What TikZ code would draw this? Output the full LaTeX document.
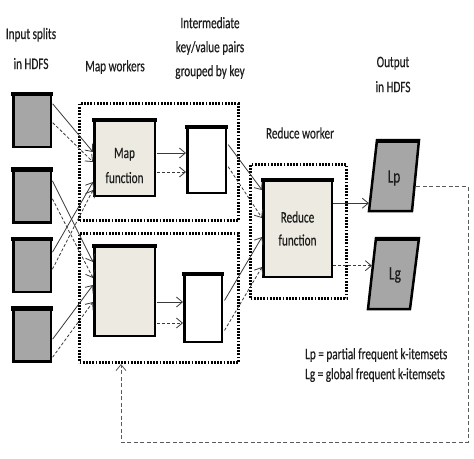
\documentclass[tikz,border=0pt]{standalone}
\usepackage{fontspec}
\setmainfont{Carlito}[FakeStretch=0.7,FakeBold=0.4]
\usetikzlibrary{arrows.meta,calc}
\definecolor{boxgray}{HTML}{A6A6A6}
\definecolor{mapfill}{HTML}{ECEAE1}
\definecolor{linegray}{HTML}{3A3A3A}
\definecolor{fbgray}{HTML}{5A5A5A}
\definecolor{txt}{HTML}{1E1E1E}
\newcommand{\topedge}[1]{\draw[line width=4.5pt] ([xshift=-1.25pt,yshift=-1pt]#1.north west) -- ([xshift=1.25pt,yshift=-1pt]#1.north east);}
\tikzset{
  inbox/.style={draw=black, line width=2.5pt, fill=boxgray, minimum width=37.5pt, minimum height=52.5pt, inner sep=0pt},
  mapbox/.style={draw=black, line width=2.5pt, fill=mapfill, inner sep=0pt, text=txt, align=center, font=\fontsize{16}{23}\selectfont},
  intbox/.style={draw=black, line width=2.5pt, fill=white, inner sep=0pt},
  worker/.style={draw=black, line width=3pt, dash pattern=on 1.8pt off 1.4pt, inner sep=0pt},
  arr/.style={draw=linegray, line width=0.8pt, -{Straight Barb[length=6pt,width=10pt,line width=0.8pt]}, shorten <=1pt},
  darr/.style={arr, dash pattern=on 3pt off 2pt},
  fb/.style={draw=fbgray, line width=0.8pt, dash pattern=on 4pt off 2.5pt, -{Straight Barb[length=6pt,width=10pt,line width=0.8pt]}},
  lbl/.style={text=txt, align=center, inner sep=0pt, font=\fontsize{16}{24}\selectfont},
  outshape/.style={draw=black, line width=2.5pt, fill=boxgray, line join=miter}
}
\begin{document}
\begin{tikzpicture}[x=1pt,y=-1pt]
\useasboundingbox (0,0) rectangle (474,458);
\fill[white] (0,0) rectangle (474,458);

% labels
\node[lbl, font=\fontsize{16}{30}\selectfont] (inlbl) at (31,48.5) {Input splits\\in HDFS};
\node[lbl] (mwlbl) at (115,67) {Map workers};
\node[lbl, font=\fontsize{16}{24}\selectfont] (intlbl) at (210,48) {Intermediate\\key/value pairs\\grouped by key};
\node[lbl, font=\fontsize{16}{25}\selectfont] (outlbl) at (393,74.5) {Output\\in HDFS};
\node[lbl] (rwlbl) at (300,133) {Reduce worker};

% worker frames
\node[worker, minimum width=159pt, minimum height=117pt] (mw1) at (159,162) {};
\node[worker, minimum width=159pt, minimum height=129pt] (mw2) at (159,298) {};
\node[worker, minimum width=96pt, minimum height=134pt] (rw) at (298.5,231.5) {};

% input splits
\node[inbox] (in1) at (32,120.5) {};
\node[inbox] (in2) at (32,196) {};
\node[inbox] (in3) at (32,265.5) {};
\node[inbox] (in4) at (32,335) {};
\foreach \n in {in1,in2,in3,in4} {\topedge{\n}}

% map functions
\node[mapbox, minimum width=60.5pt, minimum height=75.5pt] (map1) at (124.5,158) {};
\node[lbl, font=\fontsize{16}{25}\selectfont] (map1t) at (124.5,165.5) {Map\\function};
\node[mapbox, minimum width=60.5pt, minimum height=89.5pt] (map2) at (124.5,291) {};
\topedge{map1}\topedge{map2}

% intermediate
\node[intbox, minimum width=38.5pt, minimum height=65.5pt] (int1) at (206.5,160) {};
\node[intbox, minimum width=37.5pt, minimum height=67.5pt] (int2) at (203,308) {};
\topedge{int1}\topedge{int2}

% reduce
\node[mapbox, minimum width=68.5pt, minimum height=96.5pt] (red) at (297.5,228.5) {Reduce\\function};
\topedge{red}

% outputs
\coordinate (Lpnw) at (377,140);
\coordinate (Lpne) at (419,140);
\coordinate (Lpse) at (412,211);
\coordinate (Lpsw) at (369,211);
\draw[outshape] (Lpnw) -- (Lpne) -- (Lpse) -- (Lpsw) -- cycle;
\draw[line width=4.5pt] ([yshift=-1pt]Lpnw) -- ([yshift=-1pt]Lpne);
\node[text=txt, inner sep=0pt, font=\fontsize{19}{20}\selectfont] (Lp) at (394,178) {Lp};

\coordinate (Lgnw) at (376,238);
\coordinate (Lgne) at (419,238);
\coordinate (Lgse) at (410,309);
\coordinate (Lgsw) at (368,309);
\draw[outshape] (Lgnw) -- (Lgne) -- (Lgse) -- (Lgsw) -- cycle;
\draw[line width=4.5pt] ([yshift=-1pt]Lgnw) -- ([yshift=-1pt]Lgne);
\node[text=txt, inner sep=0pt, font=\fontsize{19}{20}\selectfont] (Lg) at (395,275) {Lg};

% legend
\node[lbl, align=left, anchor=west, font=\fontsize{16}{20}\selectfont] (legend) at (305,365) {Lp = partial frequent k-itemsets\\Lg = global frequent k-itemsets};

% input -> map arrows
\draw[arr]  ([yshift=17.5pt]in1.east) -- ([yshift=6pt]map1.west);
\draw[darr] ([yshift=-1.5pt]in1.east) -- ([yshift=-4pt]map1.west);
\draw[arr]  ([yshift=16pt]in2.east) -- ([yshift=29pt]map2.west);
\draw[darr] ([yshift=-2pt]in2.east) -- ([yshift=13pt]map2.west);
\draw[arr]  ([yshift=12.5pt]in3.east) -- ([yshift=-24pt]map1.west);
\draw[darr] ([yshift=-4.5pt]in3.east) -- ([yshift=-32pt]map1.west);
\draw[arr]  ([yshift=-5pt]in4.east) -- ([yshift=6pt]map2.west);
\draw[darr] ([yshift=-23pt]in4.east) -- ([yshift=-11pt]map2.west);

% map -> intermediate
\coordinate (m1a) at ([yshift=5pt]map1.east);
\coordinate (m1b) at ([yshift=-14pt]map1.east);
\coordinate (m2a) at ([yshift=-11pt]map2.east);
\coordinate (m2b) at ([yshift=-32pt]map2.east);
\draw[arr]  (m1a) -- (m1a -| int1.west);
\draw[darr] (m1b) -- (m1b -| int1.west);
\draw[arr]  (m2a) -- (m2a -| int2.west);
\draw[darr] (m2b) -- (m2b -| int2.west);

% intermediate -> reduce
\draw[arr,shorten <=2pt]  ([yshift=17pt]int1.east) -- ([yshift=38.5pt]red.west);
\draw[darr,shorten <=2pt] ([yshift=-5pt]int1.east) -- ([yshift=10.5pt]red.west);
\draw[arr,shorten <=3pt]  ([yshift=5pt]int2.east) -- ([yshift=-8.5pt]red.west);
\draw[darr,shorten <=3pt] ([yshift=-25pt]int2.east) -- ([yshift=-38.5pt]red.west);

% reduce -> outputs
\coordinate (LpIn) at ($(Lpsw)!0.11!(Lpnw)$);
\coordinate (LgIn) at ($(Lgsw)!0.61!(Lgnw)$);
\draw[arr,shorten <=0pt]  (LpIn -| red.east) -- ([xshift=-1pt]LpIn);
\draw[darr,shorten <=0pt] (LgIn -| red.east) -- ([xshift=-1pt]LgIn);

% feedback
\coordinate (fbs) at ($(Lpse)!0.34!(Lpne)$);
\coordinate (fbc) at (468,442);
\draw[fb] ([xshift=2pt]fbs) -| (fbc) -| ([xshift=-38pt]mw2.south);
\end{tikzpicture}
\end{document}
